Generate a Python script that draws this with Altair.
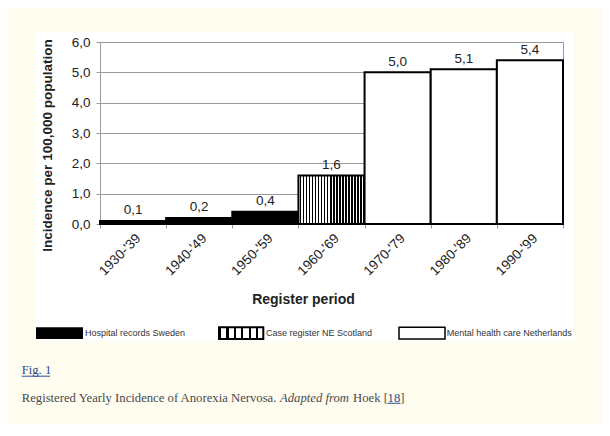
import altair as alt
import pandas as pd

# ---------------- data ----------------
periods = ["1930-'39", "1940-'49", "1950-'59", "1960-'69", "1970-'79", "1980-'89", "1990-'99"]
incidence = [0.1, 0.2, 0.4, 1.6, 5.0, 5.1, 5.4]
legend_labels = ["Hospital records Sweden", "Case register NE Scotland", "Mental health care Netherlands"]
sources = [legend_labels[0]] * 3 + [legend_labels[1]] + [legend_labels[2]] * 3
y_ticks = [0, 1, 2, 3, 4, 5, 6]
x_title = "Register period"
y_title = "Incidence per 100,000 population"
fig_label = "Fig. 1"
caption_main = "Registered Yearly Incidence of Anorexia Nervosa."
caption_italic = "Adapted from"
caption_author = "Hoek ["
caption_ref = "18"
caption_close = "]"

df = pd.DataFrame({"period": periods, "value": incidence, "source": sources})
one = pd.DataFrame({"k": [0]})

# ---------------- style ----------------
SANS = "Liberation Sans"
SERIF = "Liberation Serif"
CREAM = "#fffcf0"
INK = "#222222"
LINK = "#2b4d8c"
CAPTION = "#4a4a4a"
GRID = "#9a9a9a"


def stripes(n, frac, black_first=False):
    stops = []
    for k in range(n):
        a, c = k / n, (k + 1) / n
        if black_first:
            b = (k + frac) / n
            stops += [{"offset": a, "color": "black"}, {"offset": b, "color": "black"},
                      {"offset": b, "color": "white"}, {"offset": c, "color": "white"}]
        else:
            b = (k + 1 - frac) / n
            stops += [{"offset": a, "color": "white"}, {"offset": b, "color": "white"},
                      {"offset": b, "color": "black"}, {"offset": c, "color": "black"}]
    return {"gradient": "linear", "x1": 0, "x2": 1, "y1": 0, "y2": 0, "stops": stops}


BAR_STRIPES = stripes(22, 0.38)
LEG_STRIPES = stripes(6, 0.3, black_first=True)

x_axis = alt.Axis(labelAngle=-45, labelFont=SANS, labelFontSize=13.5, labelColor=INK,
                  labelPadding=3, tickBand="extent", tickSize=4, tickColor=GRID,
                  domain=False, grid=False, titleFont=SANS, titleFontSize=14,
                  titleFontWeight="bold", titleColor=INK, titleX=203, titleY=75,
                  titleAlign="center", titleBaseline="middle")
y_axis = alt.Axis(values=y_ticks, labelExpr="replace(format(datum.value, '.1f'), '.', ',')",
                  labelFont=SANS, labelFontSize=13.5, labelColor=INK, labelPadding=6,
                  tickSize=4, tickColor=GRID, domain=False, grid=True, gridColor=GRID,
                  titleFont=SANS, titleFontSize=13.5, titleFontWeight="bold", titleColor=INK,
                  titleX=-53, titleY=103, titleAlign="center", titleBaseline="middle")

x_enc = alt.X("period:N", sort=periods,
              scale=alt.Scale(domain=periods, paddingInner=0, paddingOuter=0),
              axis=x_axis, title=x_title)
y_enc = alt.Y("value:Q", scale=alt.Scale(domain=[0, 6], nice=False), axis=y_axis, title=y_title)

fill_enc = {
    "condition": [
        {"test": f"datum.source === '{legend_labels[0]}'", "value": "black"},
        {"test": f"datum.source === '{legend_labels[1]}'", "value": BAR_STRIPES},
    ],
    "value": "white",
}

bars = alt.Chart(df).mark_bar(stroke="black", strokeWidth=2).encode(x=x_enc, y=y_enc, fill=fill_enc)

bar_labels = alt.Chart(df).transform_calculate(
    lab="replace(format(datum.value, '.1f'), '.', ',')"
).mark_text(dy=-6.5, baseline="alphabetic", font=SANS, fontSize=13.5, color=INK).encode(
    x=x_enc, y=y_enc, text="lab:N"
)


def block(x0, x1, y0, y1, **kw):
    return alt.Chart(one).mark_rect(**kw).encode(
        x=alt.value(x0), x2=alt.value(x1), y=alt.value(y0), y2=alt.value(y1))


def txt(text, x, y, **kw):
    return alt.Chart(one).mark_text(text=text, align="left", **kw).encode(
        x=alt.value(x), y=alt.value(y))


def hline(x0, x1, y, color):
    return alt.Chart(one).mark_rule(color=color, strokeWidth=1).encode(
        x=alt.value(x0), x2=alt.value(x1), y=alt.value(y))


# cream page around the white figure panel
strips = [
    block(-92, 502, -34, -10, fill=CREAM),
    block(-92, -64, -10, 299, fill=CREAM),
    block(474, 502, -10, 299, fill=CREAM),
    block(-92, 502, 299, 382, fill=CREAM),
]

# legend
legend = [
    block(-64, -17, 285.3, 297, fill="black"),
    block(119, 163.3, 285.3, 297, fill=LEG_STRIPES, stroke="black", strokeWidth=2),
    block(299, 345, 285.3, 297, fill="white", stroke="black", strokeWidth=1.5),
    txt(legend_labels[0], -15, 291.3, baseline="middle", font=SANS, fontSize=9, color="#333333"),
    txt(legend_labels[1], 166, 291.3, baseline="middle", font=SANS, fontSize=9, color="#333333"),
    txt(legend_labels[2], 346.7, 291.3, baseline="middle", font=SANS, fontSize=9, color="#333333"),
]

# caption
caption = [
    txt(fig_label, -78.3, 332, baseline="alphabetic", font=SERIF, fontSize=12.7, color=LINK),
    hline(-78.3, -50, 334.2, LINK),
    txt(caption_main, -78.3, 359.7, baseline="alphabetic", font=SERIF, fontSize=12.7, color=CAPTION),
    txt(caption_italic, 180, 359.7, baseline="alphabetic", font=SERIF, fontSize=12.7,
        fontStyle="italic", color=CAPTION),
    txt(caption_author, 253, 359.7, baseline="alphabetic", font=SERIF, fontSize=12.7, color=CAPTION),
    txt(caption_ref, 287.6, 359.7, baseline="alphabetic", font=SERIF, fontSize=12.7, color=LINK),
    hline(287.6, 300.3, 361.3, LINK),
    txt(caption_close, 300.3, 359.7, baseline="alphabetic", font=SERIF, fontSize=12.7, color=CAPTION),
]

chart = alt.layer(bars, bar_labels, *strips, *legend, *caption).properties(
    width=463, height=182,
    padding={"left": 92, "top": 34, "right": 39, "bottom": 200},
    autosize=alt.AutoSizeParams(type="none"),
    background="white",
).configure_view(stroke=GRID, strokeWidth=1)

chart.save("out.html", embed_options={"renderer": "svg", "actions": False})
